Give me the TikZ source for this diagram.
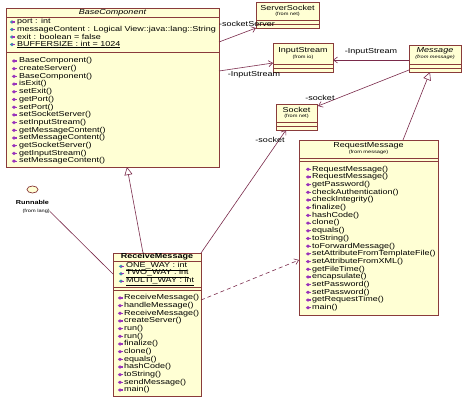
\documentclass[tikz,border=0pt]{standalone}
\usepackage{fontspec}
\setmainfont[FakeStretch=1.25]{Liberation Sans}
\usetikzlibrary{arrows.meta,calc,shapes.geometric}
\definecolor{boxfill}{HTML}{FFFFD4}
\definecolor{boxline}{HTML}{8A3B3B}
\definecolor{connc}{HTML}{7A2A4A}
\definecolor{miconc}{HTML}{9933BB}
\definecolor{aiconc}{HTML}{3A8FB0}
\tikzset{
  box/.style={draw=boxline, fill=boxfill, line width=0.9pt, inner sep=0pt, outer sep=0pt},
  txt/.style={anchor=west, inner sep=0pt, font=\fontsize{7.2}{8}\selectfont},
  ttl/.style={inner sep=0pt, font=\fontsize{7.2}{8}\selectfont},
  frm/.style={inner sep=0pt, font=\fontsize{4.5}{5}\selectfont},
  lbl/.style={inner sep=0pt, font=\fontsize{7.2}{8}\selectfont},
  divl/.style={draw=boxline, line width=0.8pt},
  connl/.style={draw=connc, line width=0.6pt},
  assoc/.style={connl, -{Straight Barb[length=4pt,width=6pt]}},
  genl/.style={connl, -{Triangle[open,length=8pt,width=8pt,fill=white]}},
  depl/.style={connl, dash pattern=on 4pt off 3pt, -{Straight Barb[length=4pt,width=6pt]}},
  micon/.pic={\fill[miconc] (-2.2,0) -- (0,-1.7) -- (2.2,0) -- (0,1.7) -- cycle; \fill[miconc] (0,-0.6) rectangle (3.2,0.6);},
  aicon/.pic={\fill[aiconc] (-2.2,0) -- (0,-1.7) -- (2.2,0) -- (0,1.7) -- cycle; \fill[miconc] (0,-0.6) rectangle (3.2,0.6);}
}
\begin{document}
\begin{tikzpicture}[x=1pt,y=-1pt]
\useasboundingbox[fill=white] (0,0) rectangle (474,404);

% ---------- BaseComponent ----------
\node[box, minimum width=213pt, minimum height=159pt] (base) at (112.5,87.5) {};
\node[ttl] (baset) at (112.5,12.5) {\itshape BaseComponent};
\draw[divl] (6,17) -- (219,17);
\draw[divl] (6,52) -- (219,52);
\foreach \t [count=\i] in {port : int, messageContent : Logical View::java::lang::String, exit : boolean = false} {
  \pic at (12,{14.5+7.5*\i}) {aicon};
  \node[txt] (ba\i) at (17,{14.5+7.5*\i}) {\t};
}
\pic at (12,44.5) {aicon};
\node[txt] (ba4) at (17,44.5) {\underline{BUFFERSIZE : int = 1024}};
\foreach \t [count=\i] in {BaseComponent(),createServer(),BaseComponent(),isExit(),setExit(),getPort(),setPort(),setSocketServer(),setInputStream(),getMessageContent(),setMessageContent(),getSocketServer(),getInputStream(),setMessageContent()} {
  \pic at (14,{53.3+7.7*\i}) {micon};
  \node[txt] (bm\i) at (19,{53.3+7.7*\i}) {\t};
}

% ---------- ServerSocket ----------
\node[box, minimum width=63pt, minimum height=26pt] (ssock) at (287.5,15) {};
\node[ttl] (ssockt) at (287.5,7.5) {ServerSocket};
\node[frm] (ssockf) at (287.5,14) {(from net)};
\draw[divl] (256,20.5) -- (319,20.5);
\draw[divl] (256,24.5) -- (319,24.5);

% ---------- InputStream ----------
\node[box, minimum width=60pt, minimum height=29pt] (istream) at (303,57.5) {};
\node[ttl] (istreamt) at (303,51) {InputStream};
\node[frm] (istreamf) at (303,57.5) {(from io)};
\draw[divl] (273,64) -- (333,64);
\draw[divl] (273,68) -- (333,68);

% ---------- Message ----------
\node[box, minimum width=52pt, minimum height=27pt] (msg) at (435,58.5) {};
\node[ttl] (msgt) at (435,51) {\itshape Message};
\node[frm] (msgf) at (435,57.5) {\itshape (from message)};
\draw[divl] (409,64) -- (461,64);
\draw[divl] (409,68) -- (461,68);

% ---------- Socket ----------
\node[box, minimum width=41pt, minimum height=26pt] (sock) at (296.5,117) {};
\node[ttl] (sockt) at (296.5,109.5) {Socket};
\node[frm] (sockf) at (296.5,116.5) {(from net)};
\draw[divl] (276,122) -- (317,122);
\draw[divl] (276,126) -- (317,126);

% ---------- RequestMessage ----------
\node[box, minimum width=139pt, minimum height=175pt] (req) at (368.5,227.5) {};
\node[ttl] (reqt) at (368.5,145.5) {RequestMessage};
\node[frm] (reqf) at (368.5,152.5) {(from message)};
\draw[divl] (299,158) -- (438,158);
\draw[divl] (299,161.5) -- (438,161.5);
\foreach \t [count=\i] in {RequestMessage(),RequestMessage(),getPassword(),checkAuthentication(),checkIntegrity(),finalize(),hashCode(),clone(),equals(),toString(),toForwardMessage(),setAttributeFromTemplateFile(),setAttributeFromXML(),getFileTime(),encapsulate(),setPassword(),setPassword(),getRequestTime(),main()} {
  \pic at (308,{161.6+7.69*\i}) {micon};
  \node[txt] (rm\i) at (312,{161.6+7.69*\i}) {\t};
}

% ---------- ReceiveMessage ----------
\node[box, minimum width=88pt, minimum height=143pt] (recv) at (157,324.5) {};
\node[ttl] (recvt) at (157,256.8) {\bfseries ReceiveMessage};
\draw[divl] (113,261.5) -- (201,261.5);
\foreach \t [count=\i] in {ONE\_WAY : int,TWO\_WAY : int,MULTI\_WAY : int} {
  \pic at (121,{259+7.4*\i}) {aicon};
  \node[txt] (rva\i) at (126,{259+7.4*\i}) {\underline{\t}};
}
\draw[divl] (113,287) -- (201,287);
\draw[divl] (113,290) -- (201,290);
\foreach \t [count=\i] in {ReceiveMessage(),handleMessage(),ReceiveMessage(),createServer(),run(),run(),finalize(),clone(),equals(),hashCode(),toString(),sendMessage(),main()} {
  \pic at (120,{290.3+7.67*\i}) {micon};
  \node[txt] (rvm\i) at (124,{290.3+7.67*\i}) {\t};
}

% ---------- Runnable ----------
\node[draw=boxline, fill=boxfill, line width=0.7pt, ellipse, minimum width=11pt, minimum height=7pt, inner sep=0pt] (run) at (32.5,189.5) {};
\node[inner sep=0pt, font=\fontsize{5.8}{6}\bfseries\selectfont] (runt) at (32.5,202) {Runnable};
\node[frm, anchor=east] (runf) at (50,211.5) {(from lang)};

% ---------- connectors ----------
\draw[assoc] ($(base.north east)+(0,34)$) -- (ssock.south west);
\node[lbl] (l1) at (247,24) {-socketServer};
\draw[assoc] ($(base.north east)+(0,63)$) -- ($(istream.north west)+(0,20)$);
\node[lbl] (l2) at (254,74.5) {-InputStream};
\draw[assoc] ($(msg.north west)+(0,15)$) -- ($(istream.north east)+(0,17)$);
\node[lbl] (l3) at (371,52) {-InputStream};
\draw[assoc] ($(msg.north west)+(0,25)$) -- ($(sock.north east)+(1,2)$);
\node[lbl] (l4) at (320,98) {-socket};
\draw[genl] ($(req.north west)+(104,0)$) -- ($(msg.south west)+(21,0)$);
\draw[genl] ($(recv.north west)+(30,0)$) -- ($(base.south west)+(121,0)$);
\draw[assoc] (recv.north east) -- ($(sock.south west)+(10,0)$);
\node[lbl] (l5) at (270,140) {-socket};
\draw[depl] ($(recv.north east)+(0,47)$) -- ($(req.north west)+(0,120)$);
\draw[connl] (runf.east) -- ($(recv.north west)+(0,21)$);
\end{tikzpicture}
\end{document}
